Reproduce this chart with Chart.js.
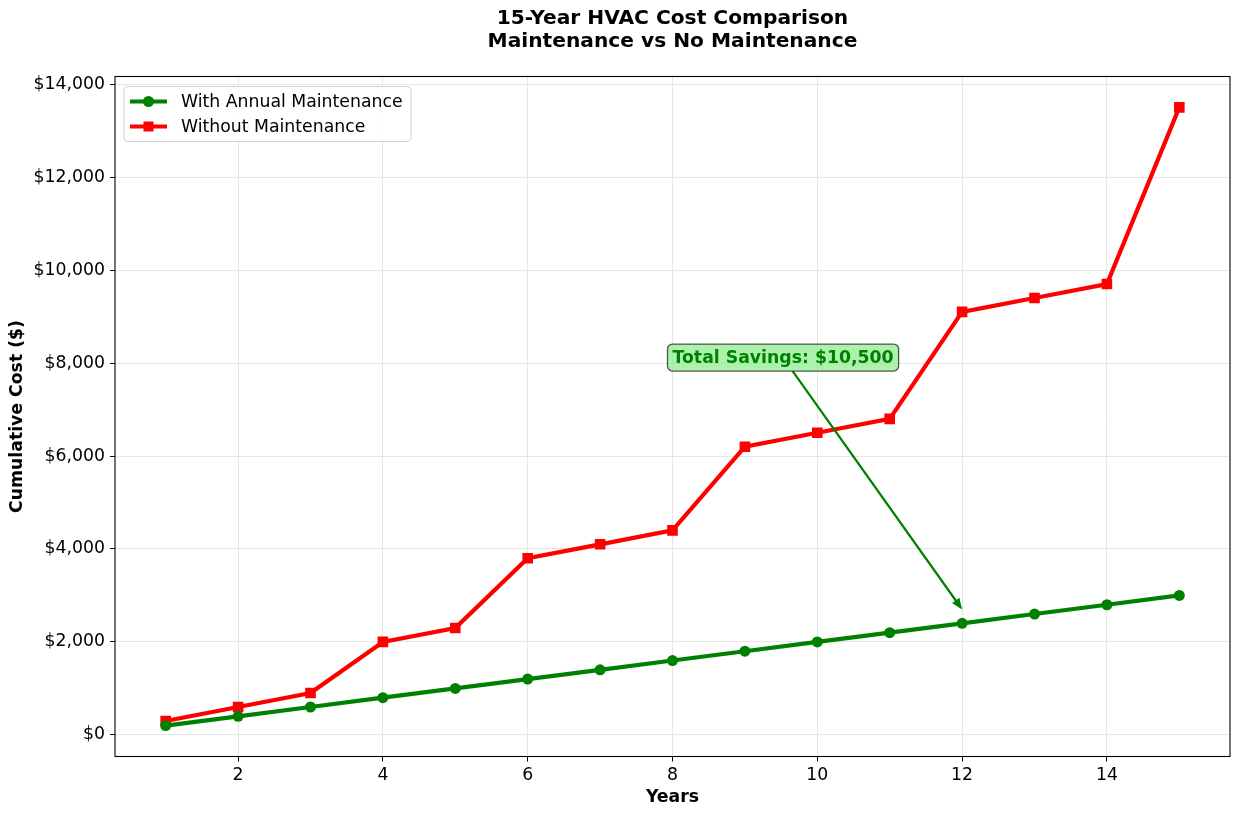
<!DOCTYPE html>
<html>
<head>
<meta charset="utf-8">
<script src="https://cdn.jsdelivr.net/npm/chart.js@4"></script>
<style>
  html, body { margin: 0; padding: 0; background: #fff; }
  #wrap { width: 1241px; height: 817px; }
</style>
</head>
<body>
<div id="wrap"><canvas id="costChart" width="1241" height="817"></canvas></div>
<script>
// 数据
const years = [1, 2, 3, 4, 5, 6, 7, 8, 9, 10, 11, 12, 13, 14, 15];
const withMaintenance = [200, 400, 600, 800, 1000, 1200, 1400, 1600, 1800, 2000, 2200, 2400, 2600, 2800, 3000];
const withoutMaintenance = [300, 600, 900, 2000, 2300, 3800, 4100, 4400, 6200, 6500, 6800, 9100, 9400, 9700, 13500];
const xTicks = [2, 4, 6, 8, 10, 12, 14];
const yTicks = [0, 2000, 4000, 6000, 8000, 10000, 12000, 14000];
const titleLines = ["15-Year HVAC Cost Comparison", "Maintenance vs No Maintenance"];
const savingsText = "Total Savings: $10,500";
const savingsTextAt = { x: 8, y: 8000 };
const savingsArrowTo = { x: 12, y: 2700 };

const FONT = "'DejaVu Sans', sans-serif";

// 标题、坐标轴标题、边框、图例、注释
const decorations = {
  id: "decorations",
  beforeDraw(chart) {
    const ctx = chart.ctx;
    ctx.save();
    ctx.fillStyle = "#fff";
    ctx.fillRect(0, 0, chart.width, chart.height);
    ctx.restore();
  },
  afterDatasetsDraw(chart) {
    const ctx = chart.ctx;
    const a = chart.chartArea;
    const xs = chart.scales.x, ys = chart.scales.y;
    const cx = (a.left + a.right) / 2;

    ctx.save();
    // 边框
    ctx.strokeStyle = "#000";
    ctx.lineWidth = 1.1;
    ctx.strokeRect(a.left, a.top, a.right - a.left, a.bottom - a.top);

    // 标题
    ctx.fillStyle = "#000";
    ctx.textAlign = "center";
    ctx.textBaseline = "middle";
    ctx.font = "bold 20.2px " + FONT;
    ctx.fillText(titleLines[0], cx, 19);
    ctx.fillText(titleLines[1], cx, 42);

    // 坐标轴标题
    ctx.font = "bold 17.3px " + FONT;
    ctx.fillText("Years", cx, 798);
    ctx.save();
    ctx.translate(18, (a.top + a.bottom) / 2);
    ctx.rotate(-Math.PI / 2);
    ctx.fillText("Cumulative Cost ($)", 0, 0);
    ctx.restore();

    // 注释
    ctx.font = "bold 17.3px " + FONT;
    const tx = xs.getPixelForValue(savingsTextAt.x);
    const ty = ys.getPixelForValue(savingsTextAt.y);
    const tw = ctx.measureText(savingsText).width;
    const bx = tx - 5, by = ty - 19, bw = tw + 10, bh = 27;
    const px = xs.getPixelForValue(savingsArrowTo.x);
    const py = ys.getPixelForValue(savingsArrowTo.y);
    const bcx = bx + bw / 2, bcy = by + bh / 2;
    const t = (by + bh - bcy) / (py - bcy);
    const sx = bcx + (px - bcx) * t, sy = by + bh;
    const ang = Math.atan2(py - sy, px - sx);
    ctx.strokeStyle = "#008000";
    ctx.fillStyle = "#008000";
    ctx.lineWidth = 2.2;
    ctx.beginPath();
    ctx.moveTo(sx, sy);
    ctx.lineTo(px - 6 * Math.cos(ang), py - 6 * Math.sin(ang));
    ctx.stroke();
    ctx.beginPath();
    ctx.moveTo(px, py);
    ctx.lineTo(px - 11 * Math.cos(ang) + 4.5 * Math.sin(ang), py - 11 * Math.sin(ang) - 4.5 * Math.cos(ang));
    ctx.lineTo(px - 11 * Math.cos(ang) - 4.5 * Math.sin(ang), py - 11 * Math.sin(ang) + 4.5 * Math.cos(ang));
    ctx.closePath();
    ctx.fill();

    ctx.beginPath();
    ctx.roundRect(bx, by, bw, bh, 5);
    ctx.fillStyle = "rgba(144,238,144,0.75)";
    ctx.fill();
    ctx.strokeStyle = "rgba(0,0,0,0.65)";
    ctx.lineWidth = 1.3;
    ctx.stroke();
    ctx.fillStyle = "#008000";
    ctx.textAlign = "left";
    ctx.textBaseline = "alphabetic";
    ctx.fillText(savingsText, tx, ty);

    // 图例
    const lx = a.left + 9, ly = a.top + 10;
    ctx.beginPath();
    ctx.roundRect(lx, ly, 287, 55, 4);
    ctx.fillStyle = "rgba(255,255,255,0.8)";
    ctx.fill();
    ctx.strokeStyle = "#d0d0d0";
    ctx.lineWidth = 1;
    ctx.stroke();
    ctx.font = "17.3px " + FONT;
    ctx.textBaseline = "middle";
    chart.data.datasets.forEach((ds, i) => {
      const yy = ly + 15 + i * 25;
      ctx.strokeStyle = ds.borderColor;
      ctx.fillStyle = ds.borderColor;
      ctx.lineWidth = 4;
      ctx.beginPath();
      ctx.moveTo(lx + 6, yy);
      ctx.lineTo(lx + 43, yy);
      ctx.stroke();
      ctx.beginPath();
      if (ds.pointStyle === "rect") {
        ctx.rect(lx + 24.5 - 5, yy - 5, 10, 10);
      } else {
        ctx.arc(lx + 24.5, yy, 5.5, 0, Math.PI * 2);
      }
      ctx.fill();
      ctx.fillStyle = "#000";
      ctx.fillText(ds.label, lx + 57, yy + 1);
    });
    ctx.restore();
  }
};

const ctx = document.getElementById("costChart").getContext("2d");
new Chart(ctx, {
  type: "line",
  data: {
    datasets: [
      {
        label: "With Annual Maintenance",
        data: years.map((y, i) => ({ x: y, y: withMaintenance[i] })),
        borderColor: "#008000",
        backgroundColor: "#008000",
        borderWidth: 4.2,
        pointStyle: "circle",
        pointRadius: 5.5,
        pointBorderWidth: 0,
        tension: 0,
        fill: false
      },
      {
        label: "Without Maintenance",
        data: years.map((y, i) => ({ x: y, y: withoutMaintenance[i] })),
        borderColor: "#ff0000",
        backgroundColor: "#ff0000",
        borderWidth: 4.2,
        pointStyle: "rect",
        pointRadius: 7.5,
        pointBorderWidth: 0,
        tension: 0,
        fill: false
      }
    ]
  },
  options: {
    responsive: false,
    animation: false,
    events: [],
    layout: { padding: { top: 76.5, right: 11, left: 0, bottom: 0 } },
    scales: {
      x: {
        type: "linear",
        min: 0.3,
        max: 15.7,
        afterBuildTicks: s => { s.ticks = xTicks.map(v => ({ value: v })); },
        afterFit: s => { s.height = 60.5; },
        grid: { color: "#e6e6e6", lineWidth: 1, tickColor: "#000", tickLength: 5 },
        border: { display: false },
        ticks: { color: "#000", padding: 4, font: { family: FONT, size: 17.3 }, maxRotation: 0 }
      },
      y: {
        type: "linear",
        min: -465,
        max: 14165,
        afterBuildTicks: s => { s.ticks = yTicks.map(v => ({ value: v })); },
        afterFit: s => { s.width = 115; },
        grid: { color: "#e6e6e6", lineWidth: 1, tickColor: "#000", tickLength: 5 },
        border: { display: false },
        ticks: {
          color: "#000",
          padding: 5,
          font: { family: FONT, size: 17.3 },
          callback: v => "$" + v.toLocaleString("en-US")
        }
      }
    },
    plugins: {
      legend: { display: false },
      title: { display: false },
      tooltip: { enabled: false }
    }
  },
  plugins: [decorations]
});
</script>
</body>
</html>
